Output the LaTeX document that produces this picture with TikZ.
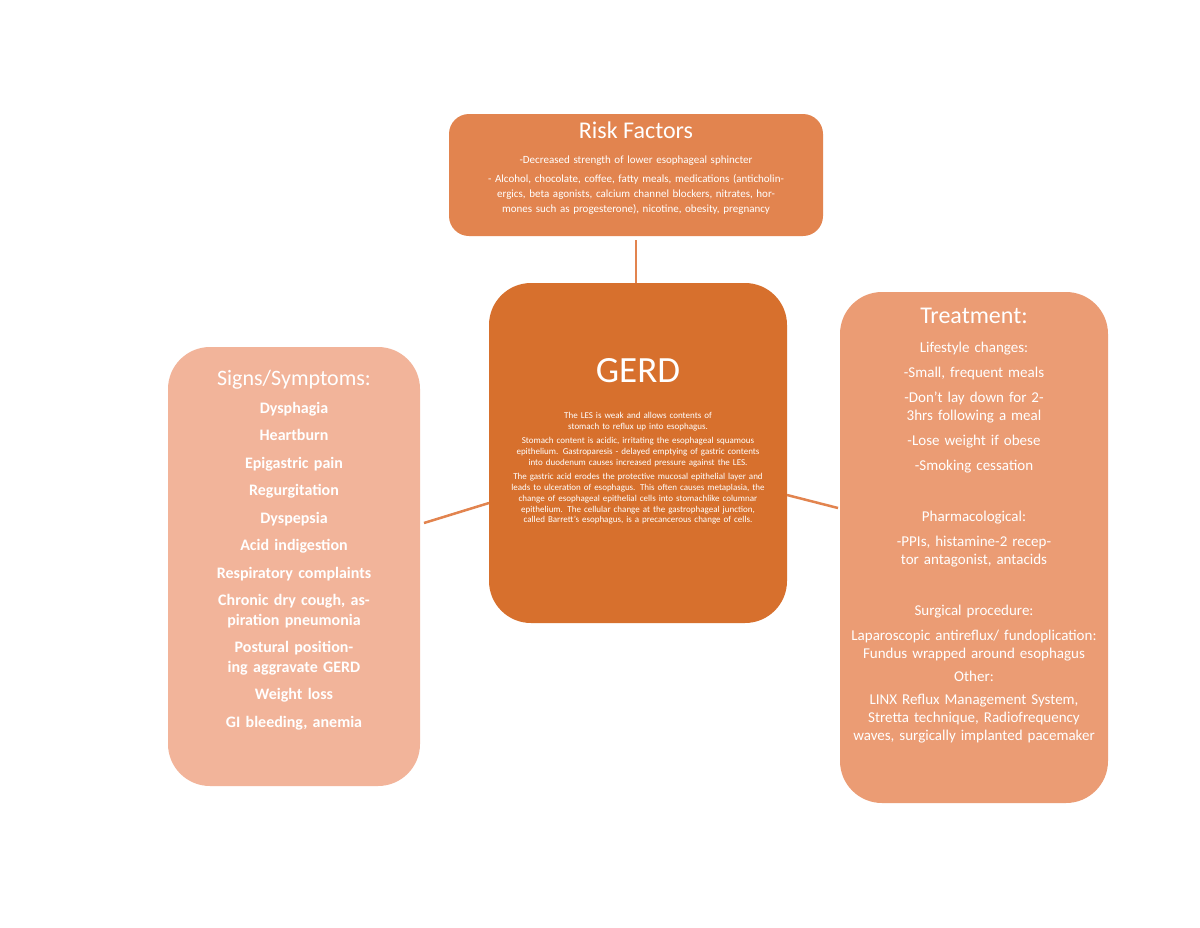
\documentclass[tikz,border=0pt]{standalone}
\usepackage{fontspec}
\setmainfont{Carlito}
\definecolor{riskc}{HTML}{E2844F}
\definecolor{gerdc}{HTML}{D7702D}
\definecolor{signc}{HTML}{F2B49A}
\definecolor{treatc}{HTML}{EB9C74}
\definecolor{linec}{HTML}{E2844F}
\begin{document}
\begin{tikzpicture}[x=1pt,y=-1pt,
  box/.style={draw=white,line width=1pt,rounded corners=#1},
  txt/.style={text=white,align=center,inner sep=0pt},
  conn/.style={linec,line width=2.5pt}]
\useasboundingbox (0,0) rectangle (1200,927);
\fill[white] (0,0) rectangle (1200,927);
\fill[riskc,rounded corners=20] (449,114) rectangle (823,236);
\fill[gerdc,rounded corners=42] (489,283) rectangle (787,623);
\fill[signc,rounded corners=42] (168,347) rectangle (420,786);
\fill[treatc,rounded corners=42] (840,292) rectangle (1108,803);
\coordinate (rb) at (636,240); \coordinate (gt) at (636,283);
\coordinate (sr) at (424,523); \coordinate (gl) at (489,503);
\coordinate (gr) at (787,495); \coordinate (tl) at (838,508);
\draw[conn] (rb) -- (gt);
\draw[conn] (sr) -- (gl);
\draw[conn] (gr) -- (tl);
\node[txt,font=\fontsize{24}{28}\selectfont] (rt) at (636,130) {Risk Factors};
\node[txt,text width=360,font=\fontsize{11}{15}\selectfont,anchor=north] (rx) at (636,156) {-Decreased strength of lower esophageal sphincter\\[4pt]- Alcohol, chocolate, coffee, fatty meals, medications (anticholinergics, beta agonists, calcium channel blockers, nitrates, hormones such as progesterone), nicotine, obesity, pregnancy};
\node[txt,font=\fontsize{37}{40}\selectfont] (gt2) at (638,371) {GERD};
\node[txt,text width=255,font=\fontsize{9}{10.7}\selectfont,anchor=north] (gx) at (638,412) {The LES is weak and allows contents of stomach to reflux up into esophagus.\\[4pt]Stomach content is acidic, irritating the esophageal squamous epithelium. Gastroparesis - delayed emptying of gastric contents into duodenum causes increased pressure against the LES.\\[4pt]The gastric acid erodes the protective mucosal epithelial layer and leads to ulceration of esophagus. This often causes metaplasia, the change of esophageal epithelial cells into stomachlike columnar epithelium. The cellular change at the gastrophageal junction, called Barrett's esophagus, is a precancerous change of cells.};
\node[txt,font=\fontsize{22}{26}\selectfont] (st) at (294,380) {Signs/Symptoms:};
\node[txt,text width=230,font=\fontsize{16}{19.5}\selectfont\bfseries,anchor=north] (sx) at (294,402) {Dysphagia\\[8pt]Heartburn\\[8pt]Epigastric pain\\[8pt]Regurgitation\\[8pt]Dyspepsia\\[8pt]Acid indigestion\\[8pt]Respiratory complaints\\[8pt]Chronic dry cough, aspiration pneumonia\\[8pt]Postural positioning aggravate GERD\\[8pt]Weight loss\\[8pt]GI bleeding, anemia};
\node[txt,font=\fontsize{24}{28}\selectfont] (tt) at (974,316) {Treatment:};
\node[txt,text width=250,font=\fontsize{15}{18}\selectfont,anchor=north] (tx) at (974,342) {Lifestyle changes:\\[7pt]-Small, frequent meals\\[7pt]-Don't lay down for 2-3hrs following a meal\\[7pt]-Lose weight if obese\\[7pt]-Smoking cessation\\[33pt]Pharmacological:\\[7pt]-PPIs, histamine-2 receptor antagonist, antacids\\[33pt]Surgical procedure:\\[7pt]Laparoscopic antireflux/ fundoplication: Fundus wrapped around esophagus\\[5pt]Other:\\[5pt]LINX Reflux Management System, Stretta technique, Radiofrequency waves, surgically implanted pacemaker};
\end{tikzpicture}
\end{document}
